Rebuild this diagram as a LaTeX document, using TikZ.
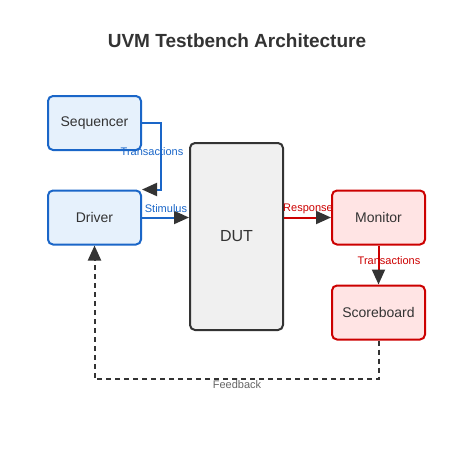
\documentclass[tikz,border=0pt]{standalone}
\usepackage{fontspec}
\setmainfont{Liberation Sans}
\usetikzlibrary{arrows.meta}
\definecolor{bluedge}{HTML}{1A66C8}
\definecolor{bluefill}{HTML}{E6F1FC}
\definecolor{rededge}{HTML}{CC0000}
\definecolor{redfill}{HTML}{FFE4E4}
\definecolor{dutfill}{HTML}{F0F0F0}
\definecolor{darkc}{HTML}{333333}
\definecolor{fbgray}{HTML}{666666}

\begin{document}
\begin{tikzpicture}[x=1pt, y=-1pt,
    blk/.style={draw, line width=2pt, rounded corners=5pt, minimum width=93pt,
      minimum height=54pt, text=darkc, font=\fontsize{14}{16}\selectfont},
    lbl/.style={inner sep=0pt, font=\fontsize{11}{13}\selectfont},
    tip/.style={-{Triangle[length=15pt, width=13pt, color=darkc]}}]
    \useasboundingbox (0,0) rectangle (474,474);

    % title
    \node[font=\fontsize{19}{22}\selectfont\bfseries, text=darkc] (title) at (237,41) {UVM Testbench Architecture};

    % blocks
    \node[blk, draw=bluedge, fill=bluefill] (seq) at (94.5,123) {Sequencer};
    \node[blk, draw=bluedge, fill=bluefill] (drv) at (94.5,217.5) {Driver};
    \node[blk, draw=darkc, fill=dutfill, minimum height=187pt, font=\fontsize{16}{18}\selectfont] (dut) at (236.5,236.5) {DUT};
    \node[blk, draw=rededge, fill=redfill] (mon) at (378.5,217.5) {Monitor};
    \node[blk, draw=rededge, fill=redfill] (scb) at (378.5,312.5) {Scoreboard};

    % connectors
    \draw[tip, line width=2pt, bluedge] (seq.east) -| ([xshift=19pt]drv.north east) -- (drv.north east);
    \draw[tip, line width=2pt, bluedge] (drv.east) -- (dut.west |- drv.east);
    \draw[tip, line width=2pt, rededge] (dut.east |- mon.west) -- (mon.west);
    \draw[tip, line width=2pt, rededge] (mon.south) -- (scb.north);
    \coordinate (fb) at (237,379);
    \draw[tip, line width=2pt, darkc, dash pattern=on 5pt off 4pt] (scb.south) |- (fb) -| (drv.south);

    % labels
    \node[lbl, text=bluedge] (seqlbl) at (152,152) {Transactions};
    \node[lbl, text=bluedge] (stimlbl) at (166,209) {Stimulus};
    \node[lbl, text=rededge] (resplbl) at (308,209) {Response};
    \node[lbl, text=rededge] (monlbl) at (389,261) {Transactions};
    \node[lbl, text=fbgray] (fblbl) at (237,385) {Feedback};
\end{tikzpicture}
\end{document}
